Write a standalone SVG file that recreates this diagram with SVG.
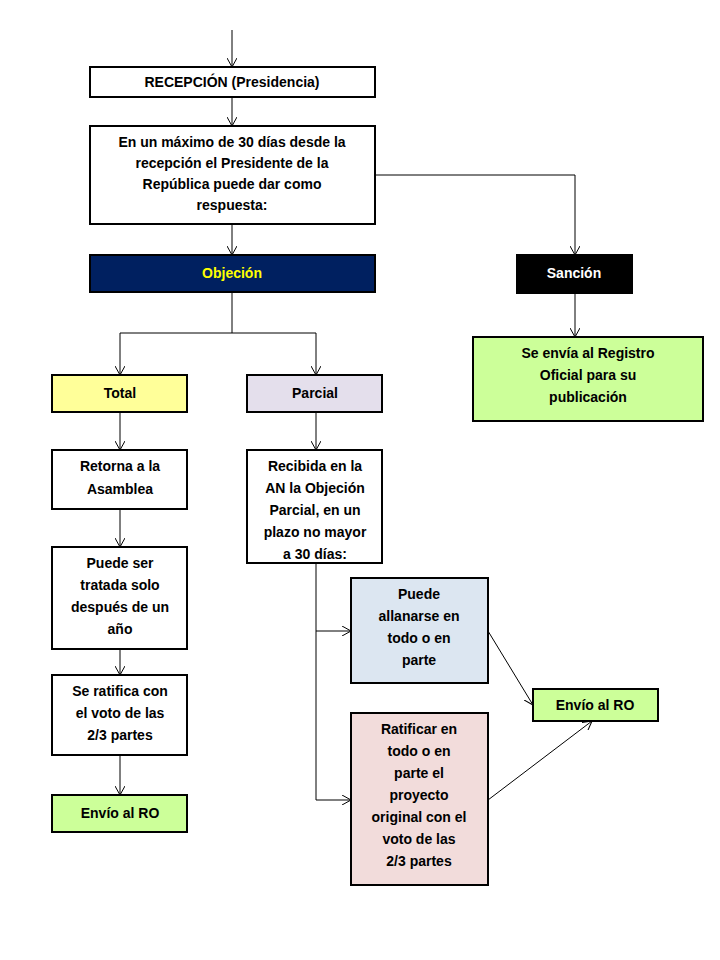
<svg xmlns="http://www.w3.org/2000/svg" width="720" height="960" viewBox="0 0 720 960">
<defs><marker id="a" markerWidth="10" markerHeight="10" refX="9" refY="5" orient="auto" markerUnits="userSpaceOnUse"><path d="M0,0 L9,5 L0,10" fill="none" stroke="#000" stroke-width="1"/></marker></defs>
<style>
rect{stroke:#000;stroke-width:2}
text{font-family:"Liberation Sans Narrow","Liberation Sans",Arial,sans-serif;font-weight:bold;font-size:14px;text-anchor:middle}
.c path{fill:none;stroke:#000;stroke-width:1}
</style>
<rect width="720" height="960" fill="#fff" style="stroke:none"/>
<g class="c">
<path d="M232,30V67" marker-end="url(#a)"/>
<path d="M232,97V126" marker-end="url(#a)"/>
<path d="M232,224V255" marker-end="url(#a)"/>
<path d="M375,175H575V255" marker-end="url(#a)"/>
<path d="M232,292V333H120V375" marker-end="url(#a)"/>
<path d="M232,333H316V375" marker-end="url(#a)"/>
<path d="M575,293V337" marker-end="url(#a)"/>
<path d="M120,412V450" marker-end="url(#a)"/>
<path d="M120,509V547" marker-end="url(#a)"/>
<path d="M120,649V675" marker-end="url(#a)"/>
<path d="M120,755V795" marker-end="url(#a)"/>
<path d="M316,412V450" marker-end="url(#a)"/>
<path d="M316,563V800H351" marker-end="url(#a)"/>
<path d="M316,631H351" marker-end="url(#a)"/>
<path d="M488,631L533,705" marker-end="url(#a)"/>
<path d="M488,800L592,721" marker-end="url(#a)"/>
</g>
<g id="recepcion"><rect x="90" y="67" width="285" height="30" fill="#fff"/><text x="232" y="87">RECEPCIÓN (Presidencia)</text></g>
<g id="plazo"><rect x="90" y="126" width="285" height="98" fill="#fff"/><text x="232" y="147">En un máximo de 30 días desde la</text><text x="232" y="168">recepción el Presidente de la</text><text x="232" y="189">República puede dar como</text><text x="232" y="210">respuesta:</text></g>
<g id="objecion"><rect x="90" y="255" width="285" height="37" fill="#002060"/><text x="232" y="278" fill="#ffff00">Objeción</text></g>
<g id="sancion"><rect x="517" y="255" width="115" height="38" fill="#000"/><text x="574" y="278" fill="#fff">Sanción</text></g>
<g id="registro"><rect x="473" y="337" width="230" height="84" fill="#ccff99"/><text x="588" y="358">Se envía al Registro</text><text x="588" y="380">Oficial para su</text><text x="588" y="402">publicación</text></g>
<g id="total"><rect x="52" y="375" width="135" height="37" fill="#ffff99"/><text x="120" y="398">Total</text></g>
<g id="parcial"><rect x="247" y="375" width="135" height="37" fill="#e4dfec"/><text x="315" y="398">Parcial</text></g>
<g id="retorna"><rect x="52" y="450" width="135" height="59" fill="#fff"/><text x="120" y="471">Retorna a la</text><text x="120" y="494">Asamblea</text></g>
<g id="tratada"><rect x="52" y="547" width="135" height="102" fill="#fff"/><text x="120" y="568">Puede ser</text><text x="120" y="590">tratada solo</text><text x="120" y="612">después de un</text><text x="120" y="634">año</text></g>
<g id="ratifica"><rect x="52" y="675" width="135" height="80" fill="#fff"/><text x="120" y="696">Se ratifica  con</text><text x="120" y="718">el voto de las</text><text x="120" y="740">2/3 partes</text></g>
<g id="envio1"><rect x="52" y="795" width="135" height="37" fill="#ccff99"/><text x="120" y="818">Envío al RO</text></g>
<g id="recibida"><rect x="247" y="450" width="135" height="113" fill="#fff"/><text x="315" y="471">Recibida en la</text><text x="315" y="493">AN la  Objeción</text><text x="315" y="515">Parcial, en un</text><text x="315" y="537">plazo no mayor</text><text x="315" y="559">a 30 días:</text></g>
<g id="allanarse"><rect x="351" y="578" width="137" height="105" fill="#dce6f1"/><text x="419" y="599">Puede</text><text x="419" y="621">allanarse en</text><text x="419" y="643">todo o en</text><text x="419" y="665">parte</text></g>
<g id="ratificar"><rect x="351" y="713" width="137" height="172" fill="#f2dcdb"/><text x="419" y="734">Ratificar en</text><text x="419" y="756">todo o en</text><text x="419" y="778">parte el</text><text x="419" y="800">proyecto</text><text x="419" y="822">original con el</text><text x="419" y="844">voto de  las</text><text x="419" y="866">2/3 partes</text></g>
<g id="envio2"><rect x="533" y="689" width="125" height="32" fill="#ccff99"/><text x="595" y="710">Envío al RO</text></g>
</svg>
